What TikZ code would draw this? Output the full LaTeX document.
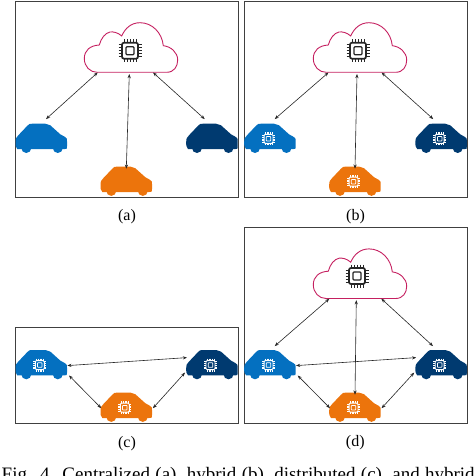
\documentclass[tikz,border=0pt]{standalone}
\usepackage{fontspec}
\usetikzlibrary{arrows.meta}
\setmainfont{Liberation Serif}
\definecolor{cloudred}{RGB}{197,32,96}
\definecolor{carblue}{RGB}{4,112,192}
\definecolor{carnavy}{RGB}{0,58,112}
\definecolor{carorange}{RGB}{236,116,12}
\definecolor{chipdark}{RGB}{38,38,38}
\tikzset{
  panel/.style={draw=black!75, line width=0.9pt},
  link/.style={{Stealth[length=4.2pt,width=3.2pt]}-{Stealth[length=4.2pt,width=3.2pt]}, line width=0.6pt, black!85},
  carbox/.style={rectangle, minimum width=52pt, minimum height=29pt, inner sep=0pt, outer sep=0pt},
  cloudbox/.style={rectangle, minimum width=93pt, minimum height=50pt, inner sep=0pt, outer sep=0pt},
  sublabel/.style={font=\fontsize{16}{18}\selectfont, inner sep=0pt},
  car/.pic={
    \fill[#1] (-24,10.8) .. controls (-25.8,8) .. (-25.8,3.7) .. controls (-25.8,0) and (-25,-1) .. (-23,-3)
      -- (-14,-12.5) .. controls (-12,-14.5) .. (-9,-14.6) -- (4,-14.6) .. controls (7,-14.6) .. (9,-13)
      -- (19,-4) -- (23.5,-1.5) .. controls (25.7,0) .. (25.7,3) -- (25.7,8) .. controls (25.7,10.8) .. (23,10.8) -- cycle;
    \fill[#1] (-15,9.7) circle (5pt) (16.5,9.7) circle (5pt);
  },
  cloud/.pic={
    \draw[cloudred, line width=0.9pt] (-34,24.8) -- (35.7,24.8) .. controls (43,24.8) and (46.7,19) .. (46.7,12.5)
      .. controls (46.7,5) and (40,-1) .. (32.3,-1.8) .. controls (31,-15) and (21,-24.8) .. (9,-24.8)
      .. controls (0,-24.8) and (-6,-19) .. (-9.3,-11.5) .. controls (-13,-15) and (-18,-16) .. (-21,-15.5)
      .. controls (-26,-14.5) and (-30,-9) .. (-31.7,-2.5) .. controls (-41,-2) and (-46.7,3) .. (-46.7,11)
      .. controls (-46.7,19) and (-41,24.8) .. (-34,24.8);
  },
  chip/.pic={
    \draw[#1, line width=1.7pt*\chipscale, rounded corners=2pt*\chipscale, scale=\chipscale] (-8,-8) rectangle (8,8);
    \draw[#1, line width=1.3pt*\chipscale, rounded corners=1pt*\chipscale, scale=\chipscale] (-4,-4) rectangle (4,4);
    \foreach \pin in {-6,-3,0,3,6} {
      \draw[#1, line width=0.9pt*\chipscale, scale=\chipscale]
        (\pin,-11.5) -- (\pin,-8) (\pin,8) -- (\pin,11.5) (-11.5,\pin) -- (-8,\pin) (8,\pin) -- (11.5,\pin);
    }
  }
}
\newcommand{\chipscale}{1}
\begin{document}
\begin{tikzpicture}[x=1pt, y=-1pt]
  \useasboundingbox (0,0) rectangle (474,476);
  \clip (0,0) rectangle (474,476);

  % Panel a
  \draw[panel] (15.7,1.3) rectangle (238.7,197.5);
  \node (cloudA) at (131,47.5) [cloudbox] {};
  \pic at (cloudA) {cloud};
  \pic at (130,50.7) {chip=chipdark};
  \node (blueA) at (41.3,138.3) [carbox] {};
  \node (navyA) at (212,138.3) [carbox] {};
  \node (orangeA) at (126.3,181.2) [carbox] {};
  \pic at (blueA) {car=carblue};
  \pic at (navyA) {car=carnavy};
  \pic at (orangeA) {car=carorange};
  \draw[link] ([xshift=-33.3]cloudA.south) -- ([shift={(4.7,-4.7)}]blueA.north);
  \draw[link] ([shift={(-1.7,1.5)}]cloudA.south) -- ([yshift=-2]orangeA.north);
  \draw[link] ([xshift=22]cloudA.south) -- ([shift={(-7.3,-4.7)}]navyA.north);
  \node (labelA) at (127,217) [sublabel] {(a)};

  % Panel b
  \draw[panel] (244.7,1.3) rectangle (467.7,197.5);
  \node (cloudB) at (360,47.5) [cloudbox] {};
  \pic at (cloudB) {cloud};
  \pic at (358,50.7) {chip=chipdark};
  \node (blueB) at (270,138.3) [carbox] {};
  \node (navyB) at (441.2,138.3) [carbox] {};
  \node (orangeB) at (355,181.2) [carbox] {};
  \pic at (blueB) {car=carblue};
  \pic at (navyB) {car=carnavy};
  \pic at (orangeB) {car=carorange};
  \renewcommand{\chipscale}{0.56}
  \pic at ([shift={(-1.5,0.5)}]blueB) {chip=white};
  \pic at ([shift={(-1.5,0.5)}]navyB) {chip=white};
  \pic at ([shift={(-1.5,0.5)}]orangeB) {chip=white};
  \renewcommand{\chipscale}{1}
  \draw[link] ([xshift=-31.5]cloudB.south) -- ([shift={(4.7,-4.7)}]blueB.north);
  \draw[link] ([shift={(-3,1.5)}]cloudB.south) -- ([yshift=-2]orangeB.north);
  \draw[link] ([xshift=21.5]cloudB.south) -- ([shift={(-8,-4.7)}]navyB.north);
  \node (labelB) at (355.5,217) [sublabel] {(b)};

  % Panel c
  \draw[panel] (15.7,327.7) rectangle (238.7,423.3);
  \node (blueC) at (41.3,364.6) [carbox] {};
  \node (navyC) at (212,364.6) [carbox] {};
  \node (orangeC) at (126.3,407.2) [carbox] {};
  \pic at (blueC) {car=carblue};
  \pic at (navyC) {car=carnavy};
  \pic at (orangeC) {car=carorange};
  \renewcommand{\chipscale}{0.56}
  \pic at ([shift={(-1.5,0.5)}]blueC) {chip=white};
  \pic at ([shift={(-1.5,0.5)}]navyC) {chip=white};
  \pic at ([shift={(-1.5,0.5)}]orangeC) {chip=white};
  \renewcommand{\chipscale}{1}
  \draw[link] ([yshift=-1]blueC.east) -- ([shift={(1,-7)}]navyC.west);
  \draw[link] ([shift={(1.7,-3.6)}]blueC.south east) -- ([shift={(1,1)}]orangeC.west);
  \draw[link] ([shift={(0.6,1)}]orangeC.east) -- ([shift={(-1,8)}]navyC.west);
  \node (labelC) at (127,444) [sublabel] {(c)};

  % Panel d
  \draw[panel] (244.3,227.3) rectangle (467.3,423.3);
  \node (cloudD) at (360,273.7) [cloudbox] {};
  \pic at (cloudD) {cloud};
  \pic at (357,276) {chip=chipdark};
  \node (blueD) at (270,364.6) [carbox] {};
  \node (navyD) at (441.2,364.6) [carbox] {};
  \node (orangeD) at (355,407.2) [carbox] {};
  \pic at (blueD) {car=carblue};
  \pic at (navyD) {car=carnavy};
  \pic at (orangeD) {car=carorange};
  \renewcommand{\chipscale}{0.56}
  \pic at ([shift={(-1.5,0.5)}]blueD) {chip=white};
  \pic at ([shift={(-1.5,0.5)}]navyD) {chip=white};
  \pic at ([shift={(-1.5,0.5)}]orangeD) {chip=white};
  \renewcommand{\chipscale}{1}
  \draw[link] ([xshift=-30.7]cloudD.south) -- ([shift={(4.7,-4)}]blueD.north);
  \draw[link] ([shift={(-3.7,1.5)}]cloudD.south) -- ([yshift=-2]orangeD.north);
  \draw[link] ([xshift=21.3]cloudD.south) -- ([shift={(-8.2,-4)}]navyD.north);
  \draw[link] ([yshift=-1]blueD.east) -- ([shift={(1,-7)}]navyD.west);
  \draw[link] ([shift={(1.7,-3.6)}]blueD.south east) -- ([shift={(1,1)}]orangeD.west);
  \draw[link] ([shift={(0.6,1)}]orangeD.east) -- ([shift={(-1,8)}]navyD.west);
  \node (labelD) at (355.3,443) [sublabel] {(d)};

  % Caption, cut off by the page as in the scan
  \node (caption) at (1.5,480.2) [anchor=base west, inner sep=0pt, font=\fontsize{19}{21}\selectfont]
    {\makebox[473pt][s]{Fig. 4. Centralized (a), hybrid (b), distributed (c), and hybrid}};
\end{tikzpicture}
\end{document}
